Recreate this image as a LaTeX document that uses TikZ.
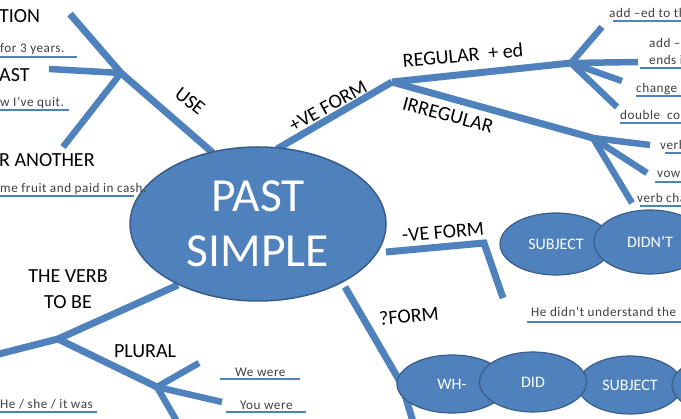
\documentclass[tikz,border=0pt]{standalone}
\usepackage{fontspec}
\setmainfont{Carlito}
\newfontfamily\spacedfont[LetterSpace=4]{Carlito}
\usetikzlibrary{shapes.geometric}
\definecolor{obl}{HTML}{4F81BD}
\definecolor{obd}{HTML}{385D8A}
\definecolor{txt}{HTML}{404040}
\begin{document}
\begin{tikzpicture}[x=1pt,y=-1pt,
  branch/.style={draw=obl, line width=7pt, line join=miter},
  twig/.style={draw=obl, line width=6.5pt},
  biglab/.style={font=\fontsize{20}{24}\selectfont, text=black, inner sep=0pt},
  smalltxt/.style={font=\spacedfont\fontsize{13.2}{15}\selectfont, text=txt, inner sep=0pt, anchor=base west},
  uline/.style={draw=obl, line width=1.2pt},
  pill/.style={ellipse, draw=obd, line width=1.2pt, fill=obl, text=white, inner sep=0pt,
    font=\fontsize{16}{19}\selectfont},
  core/.style={ellipse, draw=obd, line width=1.5pt, fill=obl, text=white, inner sep=0pt,
    align=center, font=\fontsize{47.5}{55}\selectfont}]
\useasboundingbox (0,0) rectangle (681,419);
\clip (0,0) rectangle (681,419);
\fill[white] (0,0) rectangle (681,419);

% ---------- coordinates ----------
\coordinate (useE) at (213,153);
\coordinate (useJ) at (121,73);
\coordinate (useT) at (70,14);
\coordinate (useL) at (49,69);
\coordinate (useD) at (63,147);
\coordinate (posE) at (277,149);
\coordinate (posJ) at (392,82);
\coordinate (regJ) at (571,63);
\coordinate (irrJ) at (593,138);
\coordinate (r1) at (602,27);
\coordinate (r2) at (638,62);
\coordinate (r3) at (622,81);
\coordinate (r4) at (617,107);
\coordinate (i1) at (650,145);
\coordinate (i2) at (647,173);
\coordinate (i3) at (632,203);
\coordinate (negE) at (386,252);
\coordinate (negC) at (484,243);
\coordinate (negT) at (503,298);
\coordinate (qE) at (345,287);
\coordinate (qM) at (402,385);
\coordinate (qB) at (414,425);
\coordinate (tbE) at (178,285);
\coordinate (tbJ) at (58,339);
\coordinate (tbL) at (-5,355);
\coordinate (plJ) at (157,387);
\coordinate (p1) at (199,363);
\coordinate (p2) at (222,402);
\coordinate (p3) at (179,425);

% ---------- branches ----------
\draw[branch] (useE) -- (useJ) -- (useT);
\draw[twig] (useJ) -- (useL);
\draw[twig] (useJ) -- (useD);
\draw[branch] (posE) -- (posJ);
\draw[branch] (posJ) -- (regJ);
\draw[branch] (posJ) -- (irrJ);
\draw[twig] (regJ) -- (r1);
\draw[twig] (regJ) -- (r2);
\draw[twig] (regJ) -- (r3);
\draw[twig] (regJ) -- (r4);
\draw[twig] (irrJ) -- (i1);
\draw[twig] (irrJ) -- (i2);
\draw[twig] (irrJ) -- (i3);
\draw[branch] (negE) -- (negC) -- (negT);
\draw[branch] (qE) -- (qM) -- (qB);
\draw[branch] (tbE) -- (tbJ) -- (tbL);
\draw[branch] (tbJ) -- (plJ);
\draw[twig] (plJ) -- (p1);
\draw[twig] (plJ) -- (p2);
\draw[twig] (plJ) -- (p3);

% ---------- central ellipse ----------
\node[core, minimum width=256pt, minimum height=154pt] (ps) at (258,224) {PAST\\SIMPLE};

% ---------- pills ----------
\node[pill, minimum width=112pt, minimum height=62pt] (subjA) at (556,244) {SUBJECT};
\node[pill, minimum width=112pt, minimum height=64pt] (didnt) at (650,242) {DIDN’T};
\node[pill, minimum width=110pt, minimum height=58pt] (wh) at (452,384) {WH-};
\node[pill, minimum width=104pt, minimum height=58pt] (subjB) at (630,385) {SUBJECT};
\node[pill, minimum width=106pt, minimum height=58pt] (nxt) at (725,385) {};
\node[pill, minimum width=107pt, minimum height=60pt] (did) at (533,382) {DID};

% ---------- labels ----------
\node[biglab, rotate=-38] (lUse) at (190,101) {USE};
\node[biglab, rotate=29] (lPos) at (328,106) {+VE FORM};
\node[biglab, rotate=5] (lReg) at (463,55) {REGULAR\ \ + ed};
\node[biglab, rotate=-15] (lIrr) at (448,115) {IRREGULAR};
\node[biglab, rotate=5] (lNeg) at (443,232) {-VE FORM};
\node[biglab, rotate=5] (lQ) at (409,316) {?FORM};
\node[biglab, align=center, font=\fontsize{20}{26}\selectfont] (lBe) at (68,289) {THE VERB\\TO BE};
\node[biglab] (lPl) at (145,351) {PLURAL};
\node[biglab, anchor=base west] (lTion) at (-1,23) {TION};
\node[biglab, anchor=base west] (lAst) at (-1,82) {AST};
\node[biglab, anchor=base west] (lAno) at (-1,167) {R ANOTHER};

% ---------- small texts ----------
\node[smalltxt] (t1) at (0,53) {for 3 years.};
\draw[uline] (0,57) -- (77,57);
\node[smalltxt] (t2) at (0,107) {w I’ve quit.};
\draw[uline] (0,110) -- (69,110);
\node[smalltxt] (t3) at (0,193) {me fruit and paid in cash.};
\draw[uline] (0,196) -- (134,196);

\node[smalltxt] (t4) at (609,18) {add –ed to th};
\draw[uline] (613,21) -- (690,21);
\node[smalltxt] (t5) at (649,48) {add –};
\node[smalltxt] (t6) at (649,65) {ends i};
\draw[uline] (640,68) -- (690,68);
\node[smalltxt] (t7) at (636,93) {change};
\draw[uline] (636,96) -- (690,96);
\node[smalltxt] (t8) at (620,120) {double\ \ co};
\draw[uline] (620,123) -- (690,123);
\node[smalltxt] (t9) at (660,150) {verb};
\draw[uline] (665,153) -- (690,153);
\node[smalltxt] (t10) at (657,178) {vow};
\draw[uline] (655,182) -- (690,182);
\node[smalltxt] (t11) at (637,203) {verb cha};
\draw[uline] (640,206) -- (690,206);

\node[smalltxt] (t12) at (531,317) {He didn’t understand the};
\draw[uline] (527,322) -- (690,322);

\node[smalltxt] (t13) at (235,377) {We were};
\draw[uline] (220,379) -- (300,379);
\node[smalltxt] (t14) at (240,410) {You were};
\draw[uline] (226,412) -- (306,412);
\node[smalltxt] (t15) at (0,409) {He / she / it was};
\draw[uline] (0,412) -- (97,412);
\end{tikzpicture}
\end{document}
